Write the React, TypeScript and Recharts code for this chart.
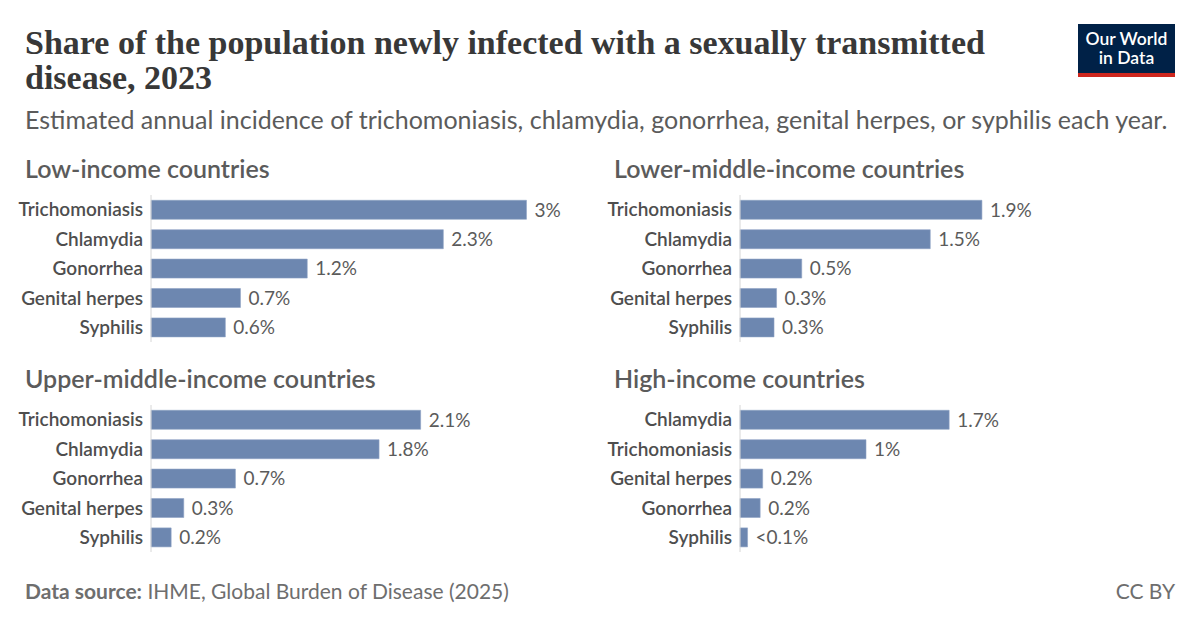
import { BarChart, Bar, XAxis, YAxis, LabelList } from "recharts";

const FONT = "Lato, 'Noto Sans', sans-serif";
const SERIF = "'Liberation Serif', 'DejaVu Serif', serif";
const BAR_COLOR = "#6d87b0";

// Annual incidence, % of population, 2023
const lowIncomeDiseases = ["Trichomoniasis", "Chlamydia", "Gonorrhea", "Genital herpes", "Syphilis"];
const lowIncomeValues = [2.98, 2.32, 1.24, 0.71, 0.59];

const lowerMiddleDiseases = ["Trichomoniasis", "Chlamydia", "Gonorrhea", "Genital herpes", "Syphilis"];
const lowerMiddleValues = [1.92, 1.51, 0.49, 0.29, 0.27];

const upperMiddleDiseases = ["Trichomoniasis", "Chlamydia", "Gonorrhea", "Genital herpes", "Syphilis"];
const upperMiddleValues = [2.14, 1.81, 0.67, 0.26, 0.16];

const highIncomeDiseases = ["Chlamydia", "Trichomoniasis", "Genital herpes", "Gonorrhea", "Syphilis"];
const highIncomeValues = [1.66, 1.0, 0.18, 0.16, 0.06];

// shared x scale so every panel is comparable
const X_MAX = 3;

const fmt = (v: number) => (v < 0.1 ? "<0.1%" : `${parseFloat(v.toFixed(1))}%`);

interface PanelProps {
  title: string;
  diseases: string[];
  values: number[];
  left: number;
  top: number;
}

function Panel({ title, diseases, values, left, top }: PanelProps) {
  const data = diseases.map((name, i) => ({ name, value: values[i] }));
  return (
    <>
      <div
        style={{
          position: "absolute",
          left: left + 25,
          top: top - 41,
          fontSize: 25,
          lineHeight: "28px",
          fontWeight: 600,
          color: "#5b5b5b",
          whiteSpace: "nowrap",
        }}
      >
        {title}
      </div>
      <div style={{ position: "absolute", left, top }}>
        <BarChart
          layout="vertical"
          width={580}
          height={147}
          data={data}
          margin={{ top: 0, right: 51, bottom: 0, left: 1 }}
          barCategoryGap="18%"
        >
          <XAxis type="number" domain={[0, X_MAX]} hide />
          <YAxis
            type="category"
            dataKey="name"
            width={150}
            interval={0}
            axisLine={{ stroke: "#d6d6d6" }}
            tickLine={false}
            tick={{ fill: "#4e4e4e", fontSize: 19, fontFamily: FONT, fontWeight: 600 }}
          />
          <Bar dataKey="value" fill={BAR_COLOR} stroke="#8ea2c4" strokeWidth={0.6} isAnimationActive={false}>
            <LabelList
              dataKey="value"
              position="right"
              offset={8}
              formatter={(v: any) => fmt(Number(v))}
              style={{ fill: "#5b5b5b", fontSize: 19, fontFamily: FONT }}
            />
          </Bar>
        </BarChart>
      </div>
    </>
  );
}

export default function App() {
  return (
    <div
      style={{
        position: "absolute",
        left: 0,
        top: 0,
        width: 1200,
        height: 627,
        background: "#fff",
        fontFamily: FONT,
        overflow: "hidden",
      }}
    >
      <div
        style={{
          position: "absolute",
          left: 25,
          top: 25,
          fontFamily: SERIF,
          fontSize: 34,
          lineHeight: "35px",
          fontWeight: 700,
          color: "#383838",
          width: 1040,
          whiteSpace: "nowrap",
        }}
      >
        Share of the population newly infected with a sexually transmitted
        <br />
        disease, 2023
      </div>

      {/* logo */}
      <div
        style={{
          position: "absolute",
          left: 1078,
          top: 24,
          width: 97,
          height: 53,
          background: "#002147",
          borderBottom: "4px solid #ce261e",
          boxSizing: "border-box",
          color: "#fff",
          fontSize: 17.5,
          fontWeight: 600,
          lineHeight: "19px",
          textAlign: "center",
          paddingTop: 5,
        }}
      >
        Our World
        <br />
        in Data
      </div>

      <div
        style={{
          position: "absolute",
          left: 25,
          top: 105,
          fontSize: 25,
          lineHeight: "28px",
          color: "#5b5b5b",
          whiteSpace: "nowrap",
        }}
      >
        Estimated annual incidence of trichomoniasis, chlamydia, gonorrhea, genital herpes, or syphilis each year.
      </div>

      <Panel title="Low-income countries" diseases={lowIncomeDiseases} values={lowIncomeValues} left={0} top={195} />
      <Panel title="Lower-middle-income countries" diseases={lowerMiddleDiseases} values={lowerMiddleValues} left={589} top={195} />
      <Panel title="Upper-middle-income countries" diseases={upperMiddleDiseases} values={upperMiddleValues} left={0} top={404.5} />
      <Panel title="High-income countries" diseases={highIncomeDiseases} values={highIncomeValues} left={589} top={404.5} />

      <div
        style={{
          position: "absolute",
          left: 25,
          top: 579,
          fontSize: 21,
          lineHeight: "24px",
          color: "#6e6e6e",
          whiteSpace: "nowrap",
        }}
      >
        <span style={{ fontWeight: 700 }}>Data source:</span> IHME, Global Burden of Disease (2025)
      </div>
      <div
        style={{
          position: "absolute",
          right: 25,
          top: 579,
          fontSize: 21,
          lineHeight: "24px",
          color: "#6e6e6e",
        }}
      >
        CC BY
      </div>
    </div>
  );
}
